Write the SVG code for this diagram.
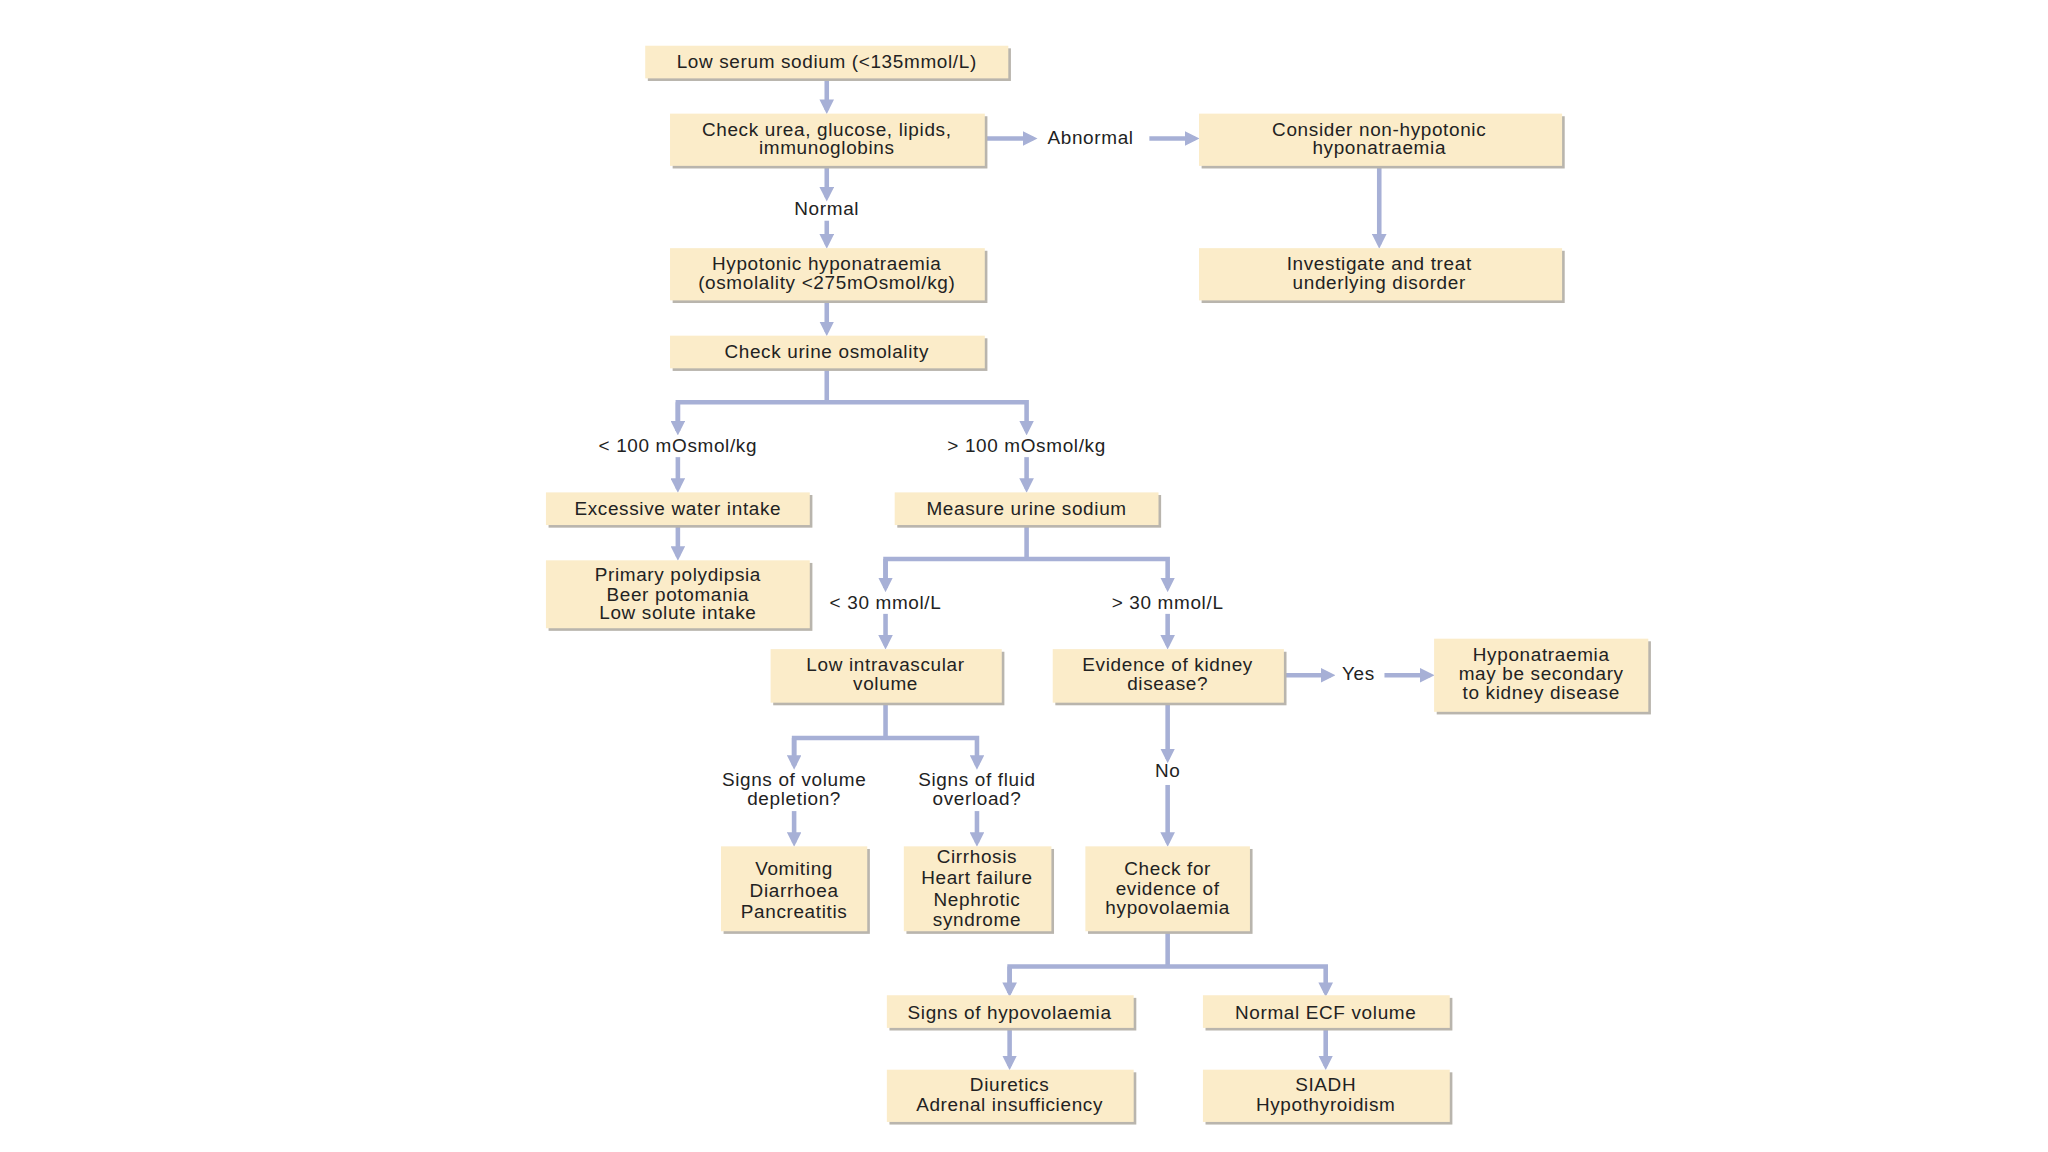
<svg xmlns="http://www.w3.org/2000/svg" width="2048" height="1152" viewBox="0 0 2048 1152">
<style>
.b{fill:#fbecc9;stroke:none}
.s{fill:#b9b5ad}
text{font-family:"Liberation Sans",Arial,sans-serif;font-size:14.5px;letter-spacing:0.5px;fill:#222;text-anchor:middle;dominant-baseline:central}
.c path{fill:none;stroke:#a7b0d6;stroke-width:3.5}
</style>
<defs>
<marker id="a" viewBox="0 0 10 10" refX="7" refY="5" markerWidth="3.2" markerHeight="3.2" orient="auto"><path d="M0,0L10,5L0,10z" fill="#a7b0d6"/></marker>
</defs>
<rect width="2048" height="1152" fill="#fff"/>
<g transform="scale(1.3061)">
<g class="c">
<path d="M633,60V84" marker-end="url(#a)"/>
<path d="M633,127V151" marker-end="url(#a)"/>
<path d="M633,169V187" marker-end="url(#a)"/>
<path d="M754,106H791" marker-end="url(#a)"/>
<path d="M880,106H915" marker-end="url(#a)"/>
<path d="M1056,127V187" marker-end="url(#a)"/>
<path d="M633,230V254" marker-end="url(#a)"/>
<path d="M633,282V308"/>
<path d="M519,330V308H786V330" marker-end="url(#a)"/>
<path d="M519,308V330" marker-end="url(#a)"/>
<path d="M519,350V374" marker-end="url(#a)"/>
<path d="M786,350V374" marker-end="url(#a)"/>
<path d="M519,402V426" marker-end="url(#a)"/>
<path d="M786,402V428"/>
<path d="M678,450V428H894V450" marker-end="url(#a)"/>
<path d="M678,428V450" marker-end="url(#a)"/>
<path d="M678,470V494" marker-end="url(#a)"/>
<path d="M894,470V494" marker-end="url(#a)"/>
<path d="M983,517H1019" marker-end="url(#a)"/>
<path d="M1060,517H1095" marker-end="url(#a)"/>
<path d="M678,538V565"/>
<path d="M608,586V565H748V586" marker-end="url(#a)"/>
<path d="M608,565V586" marker-end="url(#a)"/>
<path d="M608,621V645" marker-end="url(#a)"/>
<path d="M748,621V645" marker-end="url(#a)"/>
<path d="M894,538V581" marker-end="url(#a)"/>
<path d="M894,601V645" marker-end="url(#a)"/>
<path d="M894,713V740"/>
<path d="M773,760V740H1015V760" marker-end="url(#a)"/>
<path d="M773,740V760" marker-end="url(#a)"/>
<path d="M773,787V816" marker-end="url(#a)"/>
<path d="M1015,787V816" marker-end="url(#a)"/>
</g>
<g id="n1"><rect class="s" x="496" y="37" width="278" height="25"/><rect class="b" x="494" y="35" width="278" height="25"/><text x="633" y="47">Low serum sodium (&lt;135mmol/L)</text></g>
<g id="n2"><rect class="s" x="515" y="89" width="241" height="40"/><rect class="b" x="513" y="87" width="241" height="40"/><text x="633" y="99">Check urea, glucose, lipids,</text><text x="633" y="113">immunoglobins</text></g>
<g id="n3"><rect class="s" x="920" y="89" width="278" height="40"/><rect class="b" x="918" y="87" width="278" height="40"/><text x="1056" y="99">Consider non-hypotonic</text><text x="1056" y="113">hyponatraemia</text></g>
<g id="n4"><rect class="s" x="920" y="192" width="278" height="40"/><rect class="b" x="918" y="190" width="278" height="40"/><text x="1056" y="202">Investigate and treat</text><text x="1056" y="216">underlying disorder</text></g>
<g id="n5"><rect class="s" x="515" y="192" width="241" height="40"/><rect class="b" x="513" y="190" width="241" height="40"/><text x="633" y="202">Hypotonic hyponatraemia</text><text x="633" y="216">(osmolality &lt;275mOsmol/kg)</text></g>
<g id="n6"><rect class="s" x="515" y="259" width="241" height="25"/><rect class="b" x="513" y="257" width="241" height="25"/><text x="633" y="269">Check urine osmolality</text></g>
<g id="n7"><rect class="s" x="420" y="379" width="202" height="25"/><rect class="b" x="418" y="377" width="202" height="25"/><text x="519" y="389">Excessive water intake</text></g>
<g id="n8"><rect class="s" x="420" y="431" width="202" height="52"/><rect class="b" x="418" y="429" width="202" height="52"/><text x="519" y="440">Primary polydipsia</text><text x="519" y="455">Beer potomania</text><text x="519" y="469">Low solute intake</text></g>
<g id="n9"><rect class="s" x="687" y="379" width="202" height="25"/><rect class="b" x="685" y="377" width="202" height="25"/><text x="786" y="389">Measure urine sodium</text></g>
<g id="n10"><rect class="s" x="592" y="499" width="177" height="41"/><rect class="b" x="590" y="497" width="177" height="41"/><text x="678" y="509">Low intravascular</text><text x="678" y="523">volume</text></g>
<g id="n11"><rect class="s" x="808" y="499" width="177" height="41"/><rect class="b" x="806" y="497" width="177" height="41"/><text x="894" y="509">Evidence of kidney</text><text x="894" y="523">disease?</text></g>
<g id="n12"><rect class="s" x="1100" y="491" width="164" height="56"/><rect class="b" x="1098" y="489" width="164" height="56"/><text x="1180" y="501">Hyponatraemia</text><text x="1180" y="516">may be secondary</text><text x="1180" y="530">to kidney disease</text></g>
<g id="n13"><rect class="s" x="554" y="650" width="112" height="65"/><rect class="b" x="552" y="648" width="112" height="65"/><text x="608" y="665">Vomiting</text><text x="608" y="682">Diarrhoea</text><text x="608" y="698">Pancreatitis</text></g>
<g id="n14"><rect class="s" x="694" y="650" width="113" height="65"/><rect class="b" x="692" y="648" width="113" height="65"/><text x="748" y="656">Cirrhosis</text><text x="748" y="672">Heart failure</text><text x="748" y="689">Nephrotic</text><text x="748" y="704">syndrome</text></g>
<g id="n15"><rect class="s" x="833" y="650" width="126" height="65"/><rect class="b" x="831" y="648" width="126" height="65"/><text x="894" y="665">Check for</text><text x="894" y="680">evidence of</text><text x="894" y="695">hypovolaemia</text></g>
<g id="n16"><rect class="s" x="681" y="764" width="189" height="25"/><rect class="b" x="679" y="762" width="189" height="25"/><text x="773" y="775">Signs of hypovolaemia</text></g>
<g id="n17"><rect class="s" x="923" y="764" width="189" height="25"/><rect class="b" x="921" y="762" width="189" height="25"/><text x="1015" y="775">Normal ECF volume</text></g>
<g id="n18"><rect class="s" x="681" y="821" width="189" height="40"/><rect class="b" x="679" y="819" width="189" height="40"/><text x="773" y="830">Diuretics</text><text x="773" y="846">Adrenal insufficiency</text></g>
<g id="n19"><rect class="s" x="923" y="821" width="189" height="40"/><rect class="b" x="921" y="819" width="189" height="40"/><text x="1015" y="830">SIADH</text><text x="1015" y="846">Hypothyroidism</text></g>
<g id="labels">
<text x="835" y="105">Abnormal</text>
<text x="633" y="160">Normal</text>
<text x="519" y="341">&lt; 100 mOsmol/kg</text>
<text x="786" y="341">&gt; 100 mOsmol/kg</text>
<text x="678" y="461">&lt; 30 mmol/L</text>
<text x="894" y="461">&gt; 30 mmol/L</text>
<text x="1040" y="516">Yes</text>
<text x="894" y="590">No</text>
<text x="608" y="597">Signs of volume</text><text x="608" y="611">depletion?</text>
<text x="748" y="597">Signs of fluid</text><text x="748" y="611">overload?</text>
</g>
</g>
</svg>
